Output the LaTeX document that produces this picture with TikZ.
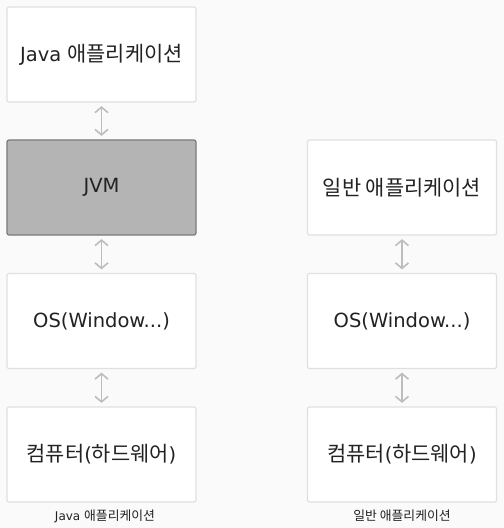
\documentclass[tikz,border=0pt]{standalone}
\usepackage{fontspec}
\setmainfont{DejaVu Sans}
\newfontfamily\kr[Scale=1.07]{Noto Sans CJK KR}
\usetikzlibrary{arrows.meta}
\definecolor{bg}{HTML}{FAFAFA}
\definecolor{boxline}{HTML}{E0E0E0}
\definecolor{jvmfill}{HTML}{B4B4B4}
\definecolor{jvmline}{HTML}{7A7A7A}
\definecolor{arrowc}{HTML}{BDBDBD}
\definecolor{txt}{HTML}{222222}
\tikzset{
  layer/.style={draw=boxline, line width=1.2bp, fill=white, rounded corners=2bp,
    minimum width=189bp, minimum height=95bp, inner sep=0pt, text=txt,
    font=\fontsize{19.5bp}{23bp}\selectfont},
  jvmbox/.style={layer, draw=jvmline, fill=jvmfill},
  link/.style={draw=arrowc, line width=1.6bp, {Straight Barb[length=5.5bp,width=13bp]}-{Straight Barb[length=5.5bp,width=13bp]}},
  caption/.style={text=txt, font=\fontsize{12bp}{15bp}\selectfont, inner sep=0pt}
}
\begin{document}
\begin{tikzpicture}[x=1bp,y=-1bp]
\fill[bg] (0,0) rectangle (504,528);
\useasboundingbox (0,0) rectangle (504,528);
\node[layer] (japp) at (101.5,54.5) {Java {\kr 애플리케이션}};
\node[jvmbox] (jvm) at (101.5,187.5) {JVM};
\node[layer] (os1) at (101.5,321) {OS(Window...)};
\node[layer] (hw1) at (101.5,454.5) {{\kr 컴퓨터}({\kr 하드웨어})};
\node[layer] (gapp) at (402,187.5) {\kr 일반 애플리케이션};
\node[layer] (os2) at (402,321) {OS(Window...)};
\node[layer] (hw2) at (402,454.5) {{\kr 컴퓨터}({\kr 하드웨어})};
\draw[link] ([yshift=-3.5bp]japp.south) -- ([yshift=3.5bp]jvm.north);
\draw[link] ([yshift=-3.5bp]jvm.south) -- ([yshift=3.5bp]os1.north);
\draw[link] ([yshift=-3.5bp]os1.south) -- ([yshift=3.5bp]hw1.north);
\draw[link] ([yshift=-3.5bp]gapp.south) -- ([yshift=3.5bp]os2.north);
\draw[link] ([yshift=-3.5bp]os2.south) -- ([yshift=3.5bp]hw2.north);
\node[caption] (cap1) at (105,516) {Java {\kr 애플리케이션}};
\node[caption] (cap2) at (402,516) {\kr 일반 애플리케이션};
\end{tikzpicture}
\end{document}
